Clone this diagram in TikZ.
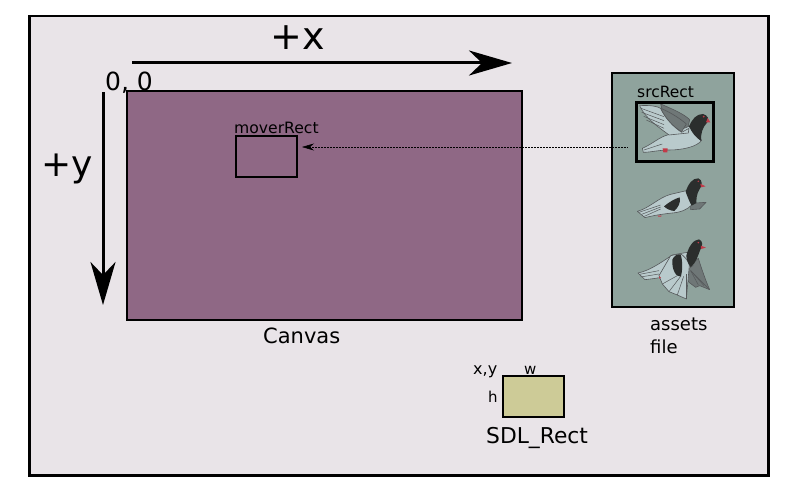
\documentclass[tikz,border=0pt]{standalone}
\usepackage{fontspec}
\setmainfont{DejaVu Sans}
\usetikzlibrary{arrows.meta}
\definecolor{pagebg}{HTML}{E9E4E8}
\definecolor{canvasfill}{HTML}{8F6885}
\definecolor{assetfill}{HTML}{8FA39D}
\definecolor{sdlfill}{HTML}{CDCB97}
\definecolor{pdark}{HTML}{2B2E2D}
\definecolor{plight}{HTML}{B9CACC}
\definecolor{pmid}{HTML}{6F7777}
\definecolor{pred}{HTML}{C23A48}
\definecolor{pline}{HTML}{55585A}
\tikzset{
  box/.style={draw=black,line width=#1,inner sep=0pt,anchor=north west},
  box/.default=2pt,
  lab/.style={inner sep=0pt,text=black,anchor=base west,align=left,font=\fontsize{#1}{#1}\selectfont},
  bigarrow/.style={line width=3pt,-{Stealth[length=43pt,width=25pt,inset=13pt]}},
  bird/.style={shift={#1},x=0.3333pt,y=-0.3333pt},
  plumage/.style={draw=pline,line width=0.6pt,line join=round},
  feather/.style={draw=pline,line width=0.5pt}
}
\begin{document}
\begin{tikzpicture}[x=1pt,y=-1pt]
\useasboundingbox (1,1) rectangle (791,488);
\fill[white] (1,1) rectangle (791,488);
\node[box=2.5pt,fill=pagebg,minimum width=739pt,minimum height=459pt] (page) at (29,16) {};
\node[box=2pt,fill=canvasfill,minimum width=395pt,minimum height=229pt] (canvas) at (127,91) {};
\node[box=2pt,minimum width=61pt,minimum height=41pt] (mover) at (236,136) {};
\node[box=1.5pt,fill=assetfill,minimum width=122pt,minimum height=234pt] (assets) at (612,73) {};
\node[box=2pt,fill=sdlfill,minimum width=61pt,minimum height=41pt] (sdl) at (503,376) {};

% top pigeon
\begin{scope}[bird={(610,70)}]
\filldraw[plumage,fill=pmid] (155,105) .. controls (190,120) and (225,135) .. (242,152) -- (236,180) -- (215,192) .. controls (190,170) and (165,150) .. cycle;
\filldraw[plumage,fill=plight] (100,238) .. controls (130,225) and (150,205) .. (175,198) -- (240,172) .. controls (255,185) and (270,200) .. (278,214) .. controls (265,232) and (225,243) .. (180,243) .. controls (150,243) and (125,250) .. (103,250) -- cycle;
\filldraw[plumage,fill=plight] (92,110) .. controls (125,108) and (145,112) .. (155,118) .. controls (170,150) and (195,175) .. (218,190) -- (240,178) -- (238,192) -- (180,198) .. controls (150,175) and (110,150) .. cycle;
\filldraw[plumage,fill=pmid] (155,118) .. controls (185,130) and (215,150) .. (232,165) -- (218,188) .. controls (195,175) and (170,150) .. cycle;
\fill[pdark] (240,172) .. controls (250,150) and (262,135) .. (282,135) .. controls (296,138) and (302,152) .. (295,160) .. controls (280,175) and (275,195) .. (276,216) .. controls (260,205) and (248,190) .. cycle;
\fill[pred] (296,147) -- (304,160) -- (291,160) -- cycle;
\fill[pred] (161,238) -- (176,238) -- (175,250) -- (163,250) -- cycle;
\fill[pred] (284,143) circle (3);
\foreach \a/\b in {96/118,98/130,104/142,112/153}
  \draw[feather] (\a,\b) -- (165,{\b+25});
\draw[feather] (105,243) -- (160,225);
\end{scope}

% middle pigeon
\begin{scope}[bird={(610,170)}]
\filldraw[plumage,fill=pmid] (245,103) -- (291,100) -- (272,120) -- (245,122) -- cycle;
\filldraw[plumage,fill=plight] (85,127) .. controls (120,118) and (150,85) .. (185,76) -- (232,65) -- (248,108) .. controls (235,122) and (215,130) .. (190,132) .. controls (160,135) and (130,140) .. (108,146) -- cycle;
\fill[pdark] (230,68) .. controls (238,45) and (250,27) .. (268,28) .. controls (280,32) and (282,50) .. (272,60) .. controls (262,75) and (262,95) .. (262,102) -- (248,110) .. controls (240,95) and (234,80) .. cycle;
\fill[pred] (274,44) -- (290,52) -- (276,55) -- cycle;
\fill[pdark] (165,112) .. controls (180,100) and (195,90) .. (212,85) .. controls (216,100) and (208,115) .. (196,126) .. controls (185,125) and (172,120) .. cycle;
\fill[pred] (146,140) -- (158,140) -- (156,143) -- (148,143) -- cycle;
\fill[pred] (268,37) circle (2.5);
\foreach \a/\b in {90/130,98/136,106/142}
  \draw[feather] (\a,\b) -- (155,{\b-22});
\end{scope}

% bottom pigeon
\begin{scope}[bird={(610,170)}]
\filldraw[plumage,fill=pmid] (240,292) -- (268,268) .. controls (278,300) and (290,335) .. (302,362) -- (272,350) -- (260,355) -- (240,340) -- (222,315) -- cycle;
\filldraw[plumage,fill=plight] (87,312) .. controls (120,305) and (150,285) .. (190,258) -- (235,250) -- (252,290) .. controls (220,315) and (170,325) .. (108,332) -- cycle;
\filldraw[plumage,fill=plight] (185,260) -- (215,254) .. controls (235,270) and (245,285) .. (240,300) -- (232,390) -- (205,378) -- (180,368) -- (160,345) -- (150,320) -- cycle;
\fill[pdark] (232,260) .. controls (238,235) and (252,212) .. (270,211) .. controls (282,215) and (282,232) .. (274,242) .. controls (266,262) and (262,280) .. (245,295) .. controls (238,285) and (232,272) .. cycle;
\fill[pdark] (190,272) .. controls (195,260) and (205,255) .. (215,256) .. controls (222,280) and (220,305) .. (216,323) .. controls (200,325) and (188,300) .. cycle;
\fill[pred] (276,230) -- (291,236) -- (276,240) -- cycle;
\fill[pred] (150,322) -- (156,326) -- (151,329) -- cycle;
\fill[pred] (268,221) circle (2.5);
\foreach \a/\b/\c/\d in {160/345/205/320,180/368/215/322,205/378/224/322,232/390/232/315,92/316/150/305,95/324/150/315}
  \draw[feather] (\a,\b) -- (\c,\d);
\foreach \a/\b in {302/362,285/350,268/348}
  \draw[feather] (\a,\b) -- (245,305);
\end{scope}

\node[box=3pt,minimum width=77pt,minimum height=59pt] (src) at (636,102) {};

% axes
\coordinate (xs) at (133,64);
\coordinate (xe) at (513,64);
\coordinate (ys) at (104,93);
\coordinate (ye) at (104,306);
\draw[bigarrow] (xs) -- (xe);
\draw[bigarrow] (ys) -- (ye);

% dotted connector
\coordinate (srcout) at (628,148);
\coordinate (moverin) at (303,148);
\draw[line width=0.5pt,densely dotted,-{Stealth[length=12pt,width=7pt,inset=4pt]}] (srcout) -- (moverin);

% labels
\node[lab=38] (xlabel) at (271,51) {+x};
\node[lab=36] (ylabel) at (42,177) {+y};
\node[lab=25] (origin) at (106,91) {0, 0};
\node[lab=15.6] (moverlabel) at (235,134) {moverRect};
\node[lab=15.5] (srclabel) at (638,98) {srcRect};
\node[lab=21] (canvaslabel) at (264,344) {Canvas};
\node[lab=18] (assetslabel) at (651,331) {assets};
\node[lab=18] (filelabel) at (651,354) {file};
\node[lab=21.8] (sdllabel) at (487,444) {SDL\_Rect};
\node[lab=16] (xylabel) at (474,375) {x,y};
\node[lab=15] (wlabel) at (525,375) {w};
\node[lab=15] (hlabel) at (489,403) {h};
\end{tikzpicture}
\end{document}
